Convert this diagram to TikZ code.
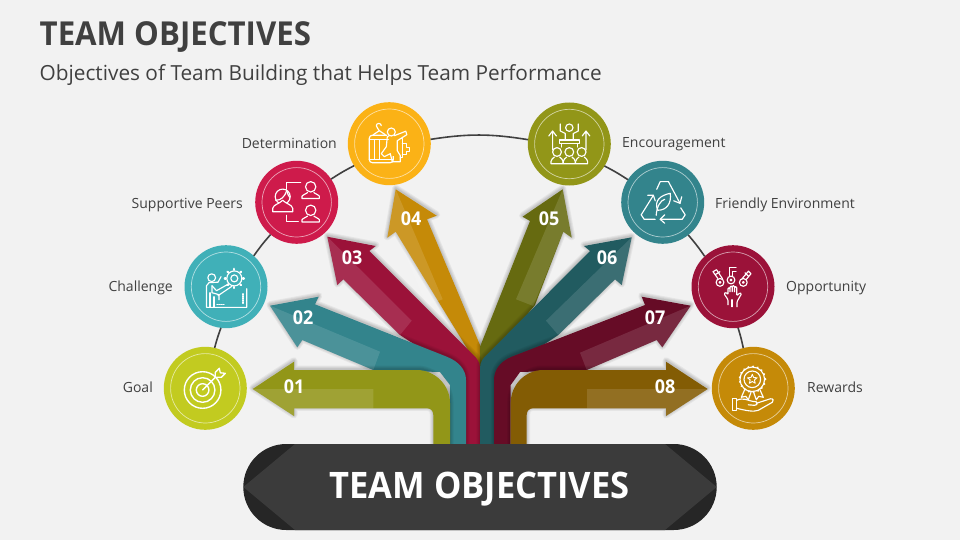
\documentclass[tikz,border=0pt]{standalone}
\usepackage{fontspec}
\setmainfont{Open Sans}
\newfontfamily\headfont[FakeStretch=0.945]{Open Sans}
\definecolor{bgc}{HTML}{F2F2F2}
\definecolor{ink}{HTML}{404040}
\definecolor{pilld}{HTML}{262626}
\definecolor{pilll}{HTML}{3B3B3B}
\definecolor{cGoal}{HTML}{C2CB20}
\definecolor{cChal}{HTML}{40B0B8}
\definecolor{cPeer}{HTML}{CE1B4B}
\definecolor{cDet}{HTML}{FBB216}
\definecolor{cEnc}{HTML}{929618}
\definecolor{cFri}{HTML}{33848C}
\definecolor{cOpp}{HTML}{9B1239}
\definecolor{cRew}{HTML}{C58A08}
\definecolor{aTwo}{HTML}{33848C}
\definecolor{aFive}{HTML}{666A10}
\definecolor{aSix}{HTML}{215B60}
\definecolor{aSeven}{HTML}{660C26}
\definecolor{aEight}{HTML}{835C04}
\tikzset{
  x=1pt,y=-1pt,
  disc/.style={circle,minimum size=83pt,inner sep=0pt,outer sep=0pt,fill=#1},
  lab/.style={text=ink,font=\fontsize{14}{16}\selectfont,inner sep=0pt,text height=10pt,text depth=0pt},
  num/.style={text=white,font=\headfont\fontsize{19}{20}\selectfont\bfseries,inner sep=0pt},
  ringline/.style={draw=white,draw opacity=.6,line width=.7pt},
  link/.style={draw=ink,line width=1.6pt},
  ic/.style={draw=white,line width=1.15pt,line join=round,line cap=round},
}
\newcommand{\ringat}[1]{\draw[ringline] (#1) circle (34.7);}
\newcommand{\fancyarrow}[3]{%
  \begin{scope}[yshift=1pt]
  \foreach \w in {7,5,3,1.5}{\draw[black,draw opacity=.05,line width=\w pt,line join=round] #2;}
  \end{scope}
  \fill[#1] #2;
  \fill[white,fill opacity=.12] #3;}
\newcommand{\person}[4]{% x y headr halfwidth
  \begin{scope}[shift={(#1,#2)}]
  \draw[ic] (0,0) circle (#3);
  \draw[ic] (-#4,11.7) -- (-#4,9.5) .. controls (-#4,#3+3.5) and (-#3,#3+2) .. (-#3*.6,#3+.6)
     (#3*.6,#3+.6) .. controls (#3,#3+2) and (#4,#3+3.5) .. (#4,9.5) -- (#4,11.7) -- (-#4,11.7);
  \end{scope}}
\begin{document}
\begin{tikzpicture}
\useasboundingbox (0,0) rectangle (960,540);
\fill[bgc] (0,0) rectangle (960,540);

\node[anchor=west,text=ink,font=\headfont\fontsize{33}{36}\selectfont\bfseries,inner sep=0pt] (title) at (39.5,37.5) {TEAM OBJECTIVES};
\node[anchor=west,text=ink,font=\fontsize{20.8}{24}\selectfont,inner sep=0pt] (sub) at (39.5,75.5) {Objectives of Team Building that Helps Team Performance};

% arrows, back to front
\fancyarrow{cRew}{(395.7,189.3) -- (436.7,215.7) -- (427,219.3) -- (480,345) -- (480,372) -- (465,345) -- (395.7,231.7) -- (387.3,237.7) -- cycle}
  {(395.7,189.3) -- (442.7,299.3) -- (426.7,305) -- (395.7,231.7) -- (387.3,237.7) -- cycle}
\fancyarrow{aFive}{(562.7,189.3) -- (571.7,237.7) -- (563.3,231.7) -- (535,305) -- (480,372) -- (480,346.7) -- (530,221) -- (522.5,216.7) -- cycle}
  {(562.7,189.3) -- (571.7,237.7) -- (563.3,231.7) -- (533.3,306) -- (516,299.3) -- cycle}
\fancyarrow{cOpp}{(327.3,236.7) -- (375.7,246) -- (369.3,251) -- (471.7,353.3) .. controls (477,358) and (480,362) .. (480,368) -- (480,445) -- (466,445) -- (466,378) -- (400,335) -- (343.3,279.3) -- (337.3,285) -- cycle}
  {(327.3,236.7) -- (411.7,320.7) -- (400,335) -- (343.3,279.3) -- (337.3,285) -- cycle}
\fancyarrow{aSix}{(631.7,237.3) -- (584,246) -- (590,251) -- (488.3,353.3) .. controls (483,358) and (480,362) .. (480,368) -- (480,445) -- (494,445) -- (494,378) -- (558.3,335) -- (615,279.3) -- (621.7,285) -- cycle}
  {(631.7,237.3) -- (546,320.7) -- (558.3,335) -- (615,279.3) -- (621.7,285) -- cycle}
\fancyarrow{aTwo}{(270,305.7) -- (318.7,296.7) -- (315,304.3) -- (446.7,356.7) .. controls (459,361.5) and (466,370) .. (466,380) -- (466,445) -- (450,445) -- (450,385) -- (440,372) -- (373.3,370) -- (302.3,340) -- (297.3,347.3) -- cycle}
  {(270,305.7) -- (380,351.7) -- (373.3,370) -- (302.3,340) -- (297.3,347.3) -- cycle}
\fancyarrow{aSeven}{(690.7,305.7) -- (641.7,296.7) -- (645,305) -- (511.7,356.7) .. controls (500,361.5) and (494,370) .. (494,380) -- (494,445) -- (510.7,445) -- (510.7,385) -- (520,372) -- (586.7,370) -- (656.7,340) -- (662.3,347.3) -- cycle}
  {(690.7,305.7) -- (580,352.7) -- (586.7,370) -- (656.7,340) -- (662.3,347.3) -- cycle}
\fancyarrow{cEnc}{(252.7,389) -- (294,361.7) -- (294,370) -- (416.7,370) .. controls (435,370) and (450,385) .. (450,403) -- (450,445) -- (433.3,445) -- (433.3,415) .. controls (433.3,411) and (431,408.3) .. (426.7,408.3) -- (294,408.3) -- (294,416) -- cycle}
  {(252.7,389) -- (373.3,389) -- (373.3,408.3) -- (294,408.3) -- (294,416) -- cycle}
\fancyarrow{aEight}{(707.7,389) -- (666,361.7) -- (666,370) -- (543.3,370) .. controls (525,370) and (510.7,385) .. (510.7,403) -- (510.7,445) -- (526.7,445) -- (526.7,415) .. controls (526.7,411) and (529,408.3) .. (533.3,408.3) -- (666,408.3) -- (666,416) -- cycle}
  {(707.7,389) -- (587,389) -- (587,408.3) -- (666,408.3) -- (666,416) -- cycle}

% base
\fill[pilld,rounded corners=43pt] (243.3,444) rectangle (716.7,530);
\fill[pilll] (295,444) -- (243.3,487) -- (295,530) -- (665,530) -- (716.7,487) -- (665,444) -- cycle;
\node[text=white,font=\headfont\fontsize{36.5}{40}\selectfont\bfseries,inner sep=0pt] (base) at (479.5,489.5) {TEAM OBJECTIVES};

% circles
\node[disc=cGoal] (goal) at (205.3,388.3) {};
\node[disc=cChal] (chal) at (226,286.7) {};
\node[disc=cPeer] (peer) at (296.7,202.3) {};
\node[disc=cDet] (det) at (389.3,143.7) {};
\node[disc=cEnc] (enc) at (569.3,144) {};
\node[disc=cFri] (fri) at (662.7,202.3) {};
\node[disc=cOpp] (opp) at (733,286.7) {};
\node[disc=cRew] (rew) at (753.3,388.3) {};
\foreach \n in {goal,chal,peer,det,enc,fri,opp,rew}{\ringat{\n}}

% connectors
\draw[link] (goal.77) to[bend left=3] (chal.263);
\draw[link] (chal.48) to[bend left=3] (peer.231);
\draw[link] (peer.34) to[bend left=3] (det.212);
\draw[link] (det.6) to[bend left=9] (enc.174);
\draw[link] (enc.328) to[bend left=3] (fri.147);
\draw[link] (fri.308) to[bend left=3] (opp.133);
\draw[link] (opp.277) to[bend left=3] (rew.104);

% labels
\node[lab,anchor=east] (lgoal) at (153,387) {Goal};
\node[lab,anchor=east] (lchal) at (173,286) {Challenge};
\node[lab,anchor=east] (lpeer) at (243,203) {Supportive Peers};
\node[lab,anchor=east] (ldet) at (337,144) {Determination};
\node[lab,anchor=west] (lenc) at (622,143) {Encouragement};
\node[lab,anchor=west] (lfri) at (715,203) {Friendly Environment};
\node[lab,anchor=west] (lopp) at (786,286) {Opportunity};
\node[lab,anchor=west] (lrew) at (807,387) {Rewards};

% numbers
\node[num] (n1) at (294,387) {01};
\node[num] (n2) at (303,318) {02};
\node[num] (n3) at (352,258) {03};
\node[num] (n4) at (411,219) {04};
\node[num] (n5) at (549,219) {05};
\node[num] (n6) at (607,258) {06};
\node[num] (n7) at (655,318) {07};
\node[num] (n8) at (665,387) {08};

% icon: goal
\begin{scope}[shift={(205.3,388.3)}]
  \draw[ic,line width=1.4pt] (-2.7,1.7) circle (18.3) (-2.7,1.7) circle (12.3) (-2.7,1.7) circle (6.3);
  \draw[ic,line width=1.4pt] (-2.7,1.7) -- (12,-13);
  \draw[ic,fill=cGoal,line width=1.3pt] (10,-11) -- (10,-16) -- (14,-20) -- (15,-15.5) -- (20,-15) -- (16,-11) -- cycle;
\end{scope}
% icon: challenge
\begin{scope}[shift={(226,286.7)}]
  \draw[ic] (8.3,-8.3) circle (3.5) (8.3,-8.3) circle (7.5);
  \foreach \a in {0,45,...,315}{\draw[ic,line width=2.2pt] (8.3,-8.3) ++(\a:8.6) -- ++(\a:1);}
  \draw[ic] (-14.3,-9) circle (3.9);
  \draw[ic] (-5,-10) -- (-8,-4.5) -- (-17,-4) -- (-19.5,-1) -- (-19.5,20.7) -- (20.7,20.7) -- (20.7,2);
  \draw[ic] (-14,-1) -- (-9.5,4) -- (3,-3);
  \draw[ic] (-14,-1) -- (-14,6) -- (-7,8) -- (-7,13);
  \draw[ic] (-8,9) -- (6,-.5);
  \draw[ic] (-16,6) -- (-16,20) (-12,10) -- (-12,20);
  \draw[ic,densely dotted] (-9,17.5) -- (-2,17.5) (17,7) -- (17,17);
\end{scope}
% icon: peers
\begin{scope}[shift={(296.7,202.3)}]
  \person{14}{-15.5}{5.2}{8.7}
  \person{14}{8}{5.2}{8.7}
  \draw[ic] (-14,-5.7) circle (7.5);
  \draw[ic] (-10,-12) .. controls (-12,-5) and (-16,-2) .. (-21,-2);
  \draw[ic] (-10,-12) .. controls (-9,-8) and (-8,-6) .. (-7,-5);
  \draw[ic,fill=cPeer] (-24,9.5) -- (-24,6) .. controls (-23,2) and (-18,2) .. (-14,-2) .. controls (-10,2) and (-5,2) .. (-4,6) -- (-4,9.5) -- cycle;
  \draw[ic] (-10,-13) -- (-10,-20) -- (4,-20);
  \draw[ic] (-10,13) -- (-10,19.3) -- (1.7,19.3);
\end{scope}
% icon: determination
\begin{scope}[shift={(389.3,143.7)}]
  \draw[ic,rounded corners=3pt] (-20,-8.5) rectangle (4,19);
  \fill[cDet] (-2,-14) rectangle (8,12);
  \draw[ic] (-20,-4) -- (-1,-4) (-20,15.5) -- (4,15.5);
  \draw[ic] (-15,-4) -- (-15,15) (-10,-4) -- (-10,15) ;
  \draw[ic] (-10,-13) .. controls (-10,-15) and (-13,-15) .. (-13,-18) .. controls (-13,-21) and (-8,-21) .. (-8,-18);
  \draw[ic] (-10,-13) -- (-16,-9) (-10,-13) -- (-4,-9);
  \draw[ic] (2,-11.7) circle (4);
  \draw[ic] (5,-8) -- (16.5,-12.5) -- (17.5,-9) -- (8,-3) -- (8,7) -- (11,12) -- (11,18) -- (3,18) -- (1,10) -- (-5,13) -- (-8,10) -- (-3,3) -- (-2,-7) -- (0,-8);
  \draw[ic] (11,-5) -- (13,-5) -- (13,14) -- (11,14);
  \draw[ic] (13,0) -- (17,0) -- (17,4) -- (20,4) -- (20,8) -- (17,8) -- (17,11) -- (13,11);
\end{scope}
% icon: encouragement
\begin{scope}[shift={(569.3,144)}]
  \draw[ic] (0,-16.3) circle (3.7);
  \draw[ic] (-9,-20) -- (-9,-13) -- (-4,-10.5) -- (-4,-4) -- (4,-4) -- (4,-10.5) -- (9,-13) -- (9,-20);
  \draw[ic] (-10,-4) rectangle (10,-.5);
  \draw[ic] (-8,-.5) -- (-8,3) (8,-.5) -- (8,3);
  \draw[ic] (-16.7,6) -- (-16.7,-13) (-20.5,-8) -- (-16.7,-13) -- (-12.9,-8);
  \draw[ic] (16.7,6) -- (16.7,-13) (20.5,-8) -- (16.7,-13) -- (12.9,-8);
  \person{-12.3}{8}{4.4}{6}
  \person{12.3}{8}{4.4}{6}
  \person{0}{8}{4.4}{6}
\end{scope}
% icon: friendly
\begin{scope}[shift={(662.7,202.3)}]
  \draw[ic] (-6,-13) -- (-2.5,-20.7) -- (5.7,-20.7) -- (17.3,1);
  \draw[ic] (11,-1.5) -- (17.3,1) -- (19,-5.5);
  \draw[ic] (-9.3,-7) -- (-21.5,12.5) -- (-18.5,17) -- (-7.5,17);
  \draw[ic] (-15,-7) -- (-9.3,-7) -- (-7.5,-1.5);
  \draw[ic] (18,5.5) -- (22.5,12.5) -- (19.5,17) -- (-2.5,17);
  \draw[ic] (2,12.5) -- (-2.5,17) -- (2,21);
  \draw[ic] (-5,8) .. controls (-9,-2) and (-2,-7) .. (7.5,-9) .. controls (9,1) and (4,8) .. (-5,8);
  \draw[ic] (-6.5,13) .. controls (-6,4) and (-2,-2) .. (2,-3);
\end{scope}
% icon: opportunity
\begin{scope}[shift={(733,286.7)}]
  \draw[ic] (-13,-4.3) circle (3.9) (-13,-4.3) circle (.9);
  \draw[ic] (-2,-6.7) circle (3.9) (-2,-6.7) circle (.9);
  \draw[ic] (10.3,-4.3) circle (3.9) (10.3,-4.3) circle (.9);
  \draw[ic] (-15,-8) -- (-20,-15) -- (-16.5,-17) -- (-10.5,-8) (-17,-12.5) -- (-13,-15);
  \draw[ic] (-3.5,-10.5) -- (-3.5,-19) -- (3,-19) (-.5,-10.5) -- (-.5,-15.5) -- (3,-15.5);
  \draw[ic] (13,-7) -- (18,-13) -- (15.5,-15.5) -- (9,-8) (15,-11) -- (12,-14);
  \draw[ic,rounded corners=1pt] (-5,18) -- (-5,13) -- (-9,7) -- (-7,5.5) -- (-5,8) -- (-5,1) -- (-3,1) -- (-3,6) -- (-3,-.5) -- (-.8,-.5) -- (-.8,6) -- (-.8,-1) -- (1.5,-1) -- (1.5,6) -- (1.5,0) -- (3.7,0) -- (3.7,9) -- (7,6) -- (8.5,7) -- (4,15) -- (4,20);
  \draw[ic] (-1,13) -- (-1,20);
\end{scope}
% icon: rewards
\begin{scope}[shift={(753.3,388.3)}]
  \draw[ic,fill=cRew] (-8,0) -- (-12,9) -- (-7.5,8) -- (-5,11.5) -- (-2,3);
  \draw[ic,fill=cRew] (6,0) -- (10,9) -- (5.5,8) -- (3,11.5) -- (0,3);
  \draw[ic,fill=cRew] (-1,-9) circle (12.3);
  \draw[ic,dash pattern=on .1pt off 4.6pt,line width=2.2pt] (-1,-9) circle (12.9);
  \draw[ic] (-1,-9) circle (8.3);
  \draw[ic,line width=.9pt] (-1,-14) -- (.3,-10.8) -- (3.8,-10.5) -- (1.1,-8.3) -- (2,-5) -- (-1,-6.8) -- (-4,-5) -- (-3.1,-8.3) -- (-5.8,-10.5) -- (-2.3,-10.8) -- cycle;
  \draw[ic] (-21,10) rectangle (-16.7,22);
  \draw[ic] (-16.7,12) .. controls (-10,9) and (-6,12) .. (-1,13) -- (3,13.5) .. controls (5,14) and (4,17) .. (1,17) -- (-5,16.5);
  \draw[ic] (3,15) -- (17,10.5) .. controls (20,10) and (21,12.5) .. (19,14) -- (5,22) .. controls (0,24) and (-8,22) .. (-16.7,20);
\end{scope}
\end{tikzpicture}
\end{document}
